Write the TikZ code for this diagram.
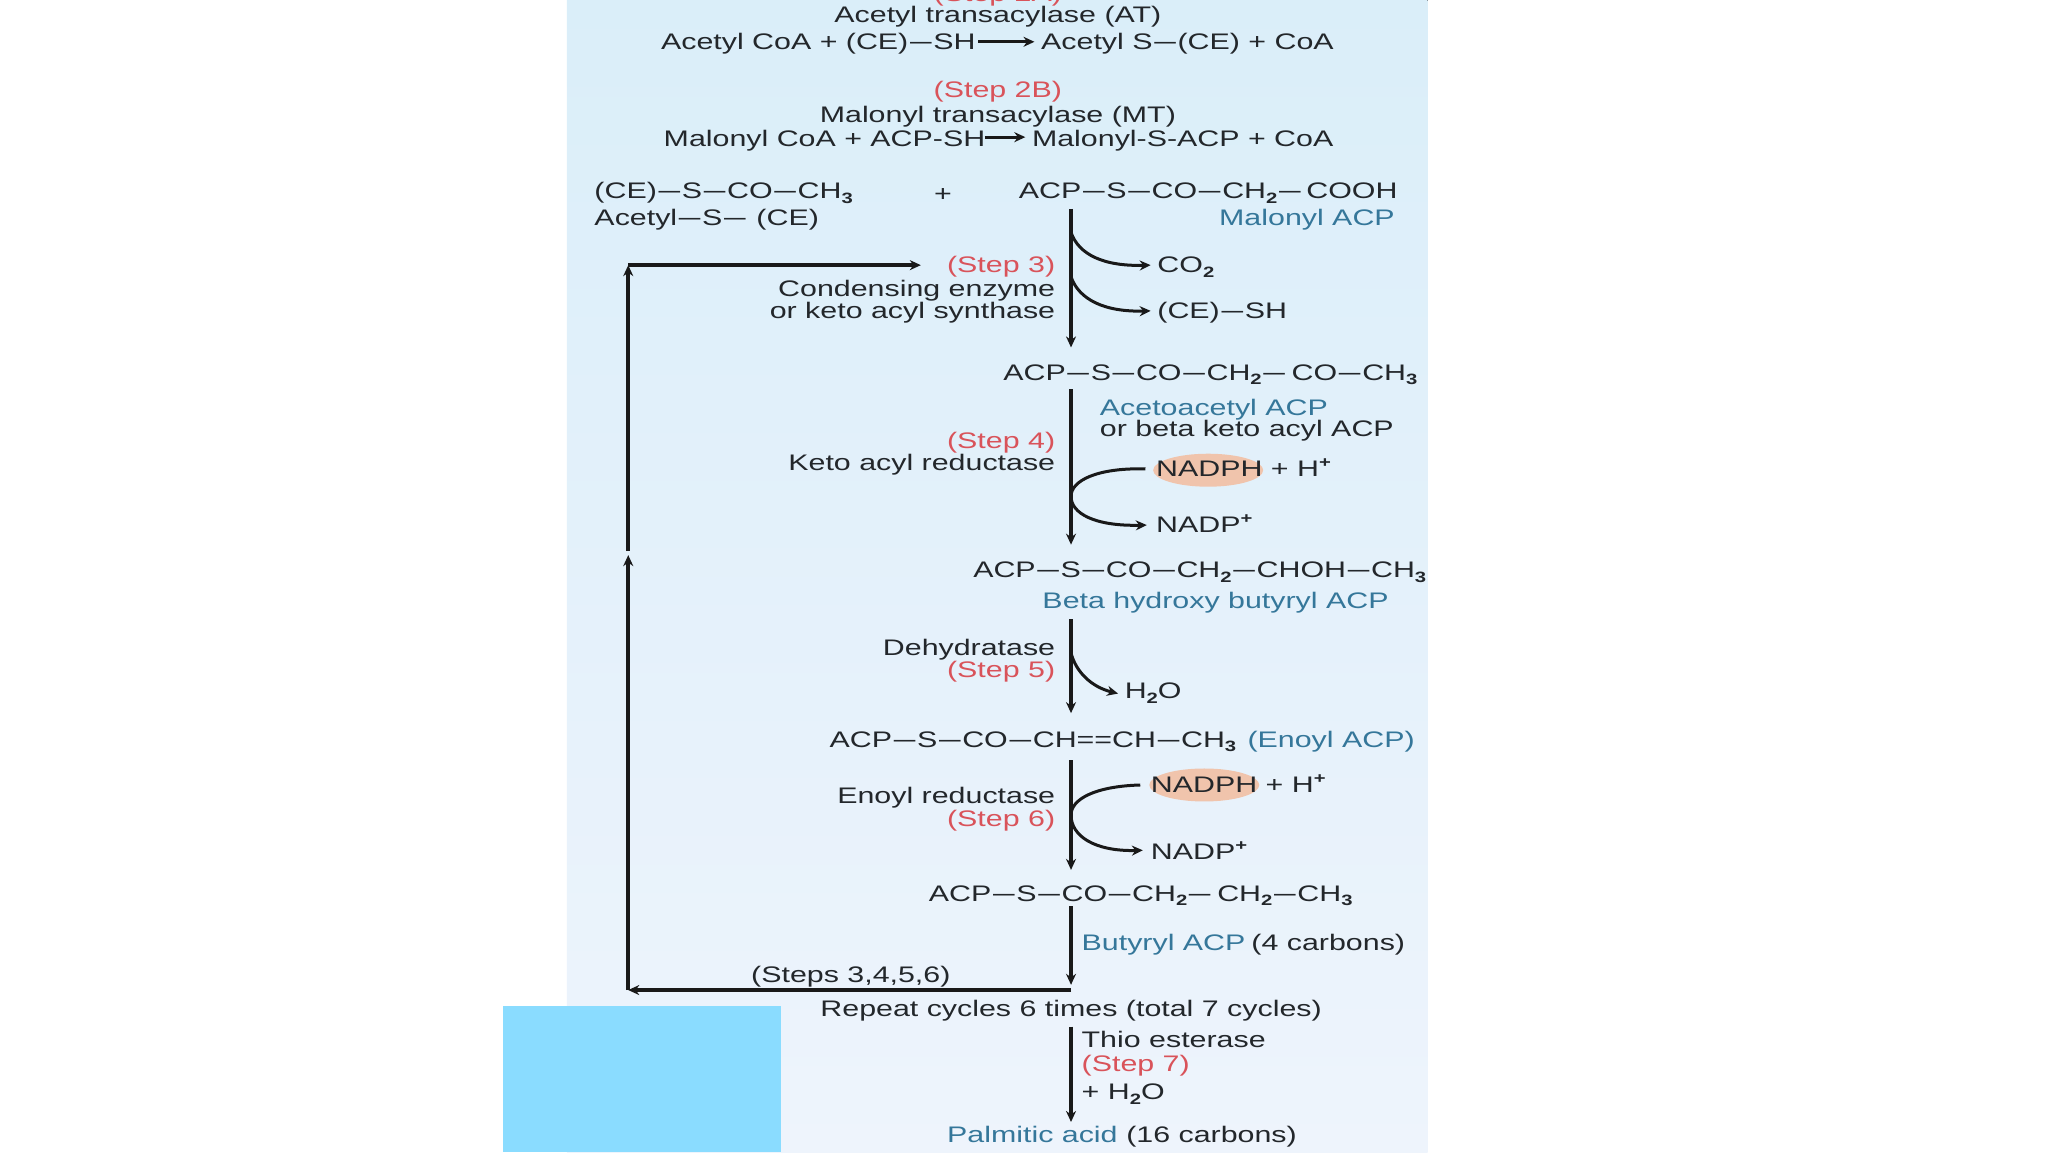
\documentclass[tikz,border=0pt]{standalone}
\usepackage{fontspec}
\usepackage{tikz}
\usetikzlibrary{arrows.meta,shapes.geometric}
\setmainfont[FakeStretch=1.35]{Liberation Sans}

\definecolor{stepred}{HTML}{D9535A}
\definecolor{acpblue}{HTML}{35779A}
\definecolor{inkdark}{HTML}{23272B}
\definecolor{nadphfill}{HTML}{F0C4AC}
\definecolor{patchblue}{HTML}{8ADCFF}
\definecolor{paneltop}{HTML}{DAEEF9}
\definecolor{panelmid}{HTML}{E7F4FB}
\definecolor{panelbot}{HTML}{EEF4FC}

\newcommand{\dnx}[1]{\raisebox{-0.4ex}{\fontsize{15}{15}\selectfont\bfseries #1}}
\newcommand{\upx}[1]{\raisebox{0.75ex}{\fontsize{15}{15}\selectfont\bfseries #1}}
\newcommand{\bnd}{\hspace{1.7pt}\raisebox{2pt}{\fontsize{16}{16}\selectfont\bfseries —}\hspace{1.7pt}}

\tikzset{
  lbl/.style={anchor=base west,inner sep=0pt,text=inkdark,font=\fontsize{22.5}{26}\selectfont},
  lbr/.style={lbl,anchor=base east},
  lbc/.style={lbl,anchor=base},
  stepr/.style={text=stepred},
  acp/.style={text=acpblue},
  mainarrow/.style={-{Stealth[length=11pt,width=10pt]},line width=3.3pt,draw=black!90},
  looparrow/.style={-{Stealth[length=11pt,width=10pt]},line width=3.8pt,draw=black!90},
  sidearrow/.style={-{Stealth[length=11pt,width=10pt]},line width=3pt,draw=black!90},
  nadph/.style={ellipse,fill=nadphfill,minimum width=110pt,minimum height=33pt,inner sep=0pt}
}

\begin{document}
\begin{tikzpicture}[x=1.30612pt,y=-1.30612pt]
\useasboundingbox (0,0) rectangle (1568,882);
\fill[top color=paneltop,middle color=panelmid,bottom color=panelbot] (434,0) rectangle (1093,882);

\node[lbc,stepr] (s2a) at (764,1) {(Step 2A)}; \node[lbc] (at) at (764,17) {Acetyl transacylase (AT)};
\node[lbl] (ra1) at (506,38) {Acetyl CoA + (CE)\bnd SH}; \node[lbl] (ra2) at (797,38) {Acetyl S\bnd(CE) + CoA};
\coordinate (ra1e) at (749,32); \coordinate (ra2s) at (792,32);

\node[lbc,stepr] (s2b) at (764,75) {(Step 2B)}; \node[lbc] (mt) at (764,94) {Malonyl transacylase (MT)};
\node[lbl] (rb1) at (508,112) {Malonyl CoA + ACP-SH}; \node[lbl] (rb2) at (790,112) {Malonyl-S-ACP + CoA};
\coordinate (rb1e) at (754,105); \coordinate (rb2s) at (785,105);

\node[lbl] (ce) at (455,152) {(CE)\bnd S\bnd CO\bnd CH\dnx{3}}; \node[lbl] (ce2) at (455,173) {Acetyl\bnd S\bnd\hspace{9pt}(CE)}; \node[lbc] (pl) at (722,154) {+};
\node[lbl] (mal) at (780,152) {ACP\bnd S\bnd CO\bnd CH\dnx{2}\bnd\hspace{4pt}COOH}; \node[lbr,acp] (malacp) at (1068,173) {Malonyl ACP};

\node[lbr,stepr] (s3) at (808,209) {(Step 3)}; \node[lbr] (ce3) at (808,227) {Condensing enzyme}; \node[lbr] (ke3) at (808,244) {or keto acyl synthase};
\node[lbl] (co2) at (886,209) {CO\dnx{2}}; \node[lbl] (cesh) at (886,244) {(CE)\bnd SH};
\node[lbl] (aceto) at (768,291) {ACP\bnd S\bnd CO\bnd CH\dnx{2}\bnd\hspace{5pt}CO\bnd CH\dnx{3}};
\node[lbl,acp] (acetol) at (842,318) {Acetoacetyl ACP}; \node[lbl] (beta) at (842,334) {or beta keto acyl ACP};

\node[lbr,stepr] (s4) at (808,343) {(Step 4)}; \node[lbr] (kr) at (808,360) {Keto acyl reductase};
\node[nadph] (el1) at (925,360) {}; \node[lbl] (np1) at (885,365) {NADPH + H\upx{+}}; \node[lbl] (nd1) at (885,408) {NADP\upx{+}};
\node[lbl] (hyd) at (745,442) {ACP\bnd S\bnd CO\bnd CH\dnx{2}\bnd CHOH\bnd CH\dnx{3}}; \node[lbl,acp] (hydl) at (798,466) {Beta hydroxy butyryl ACP};

\node[lbr] (dh) at (808,502) {Dehydratase}; \node[lbr,stepr] (s5) at (808,519) {(Step 5)}; \node[lbl] (h2o) at (861,535) {H\dnx{2}O};
\node[lbl] (eno) at (635,572) {ACP\bnd S\bnd CO\bnd CH==CH\bnd CH\dnx{3}}; \node[lbl,acp] (enol) at (955,572) {(Enoyl ACP)};

\node[lbr] (er) at (808,615) {Enoyl reductase}; \node[lbr,stepr] (s6) at (808,633) {(Step 6)};
\node[nadph] (el2) at (922,601) {}; \node[lbl] (np2) at (881,607) {NADPH + H\upx{+}}; \node[lbl] (nd2) at (881,658) {NADP\upx{+}};
\node[lbl] (but) at (711,690) {ACP\bnd S\bnd CO\bnd CH\dnx{2}\bnd\hspace{5pt}CH\dnx{2}\bnd CH\dnx{3}}; \node[lbl,acp] (butl) at (828,728) {Butyryl ACP}; \node[lbl] (butc) at (958,728) {(4 carbons)};

\node[lbl] (st) at (575,752) {(Steps 3,4,5,6)}; \node[lbl] (rep) at (628,778) {Repeat cycles 6 times (total 7 cycles)};
\node[lbl] (th) at (828,802) {Thio esterase}; \node[lbl,stepr] (s7) at (828,820) {(Step 7)}; \node[lbl] (wat) at (828,842) {+ H\dnx{2}O};
\node[lbl,acp] (pa) at (725,875) {Palmitic acid}; \node[lbr] (pac) at (993,875) {(16 carbons)};

\foreach \nm/\yy/\zz in {a/160/266,b/298/417,c/474/546,d/582/666,e/694/754,f/786/859}{
  \coordinate (t\nm) at (820,\yy); \coordinate (h\nm) at (820,\zz);
  \draw[mainarrow] (t\nm) -- (h\nm);
}

\draw[sidearrow] (ra1e) -- (ra2s); \draw[sidearrow] (rb1e) -- (rb2s);

\coordinate (b1) at (820,178); \coordinate (b1e) at (881,203); \coordinate (b2) at (820,212); \coordinate (b2e) at (881,238);
\draw[sidearrow] (b1) .. controls (826,195) and (845,204) .. (b1e); \draw[sidearrow] (b2) .. controls (826,229) and (845,239) .. (b2e);

\coordinate (c1) at (877,359); \coordinate (c1m) at (820,380); \coordinate (c1e) at (878,402);
\draw[sidearrow] (c1) .. controls (840,358) and (820,368) .. (c1m) .. controls (820,393) and (838,403) .. (c1e);

\coordinate (d1) at (820,500); \coordinate (d1e) at (856,531);
\draw[sidearrow] (d1) .. controls (824,515) and (836,526) .. (d1e);

\coordinate (e1) at (873,601); \coordinate (e1m) at (820,624); \coordinate (e1e) at (875,651);
\draw[sidearrow] (e1) .. controls (838,602) and (820,612) .. (e1m) .. controls (820,640) and (838,652) .. (e1e);

\coordinate (lp0) at (820,758); \coordinate (lp1) at (481,758); \coordinate (lp2) at (481,425); \coordinate (lp3) at (481,422); \coordinate (lp4) at (481,203); \coordinate (lp5) at (705,203);
\draw[looparrow] (lp0) -- (lp1); \draw[looparrow] (lp1) -- (lp2); \draw[looparrow] (lp3) -- (lp4); \draw[looparrow] (lp4) -- (lp5);

\fill[white] (1093,0) rectangle (1568,882);
\fill[patchblue] (385,770) rectangle (598,882);
\end{tikzpicture}
\end{document}
